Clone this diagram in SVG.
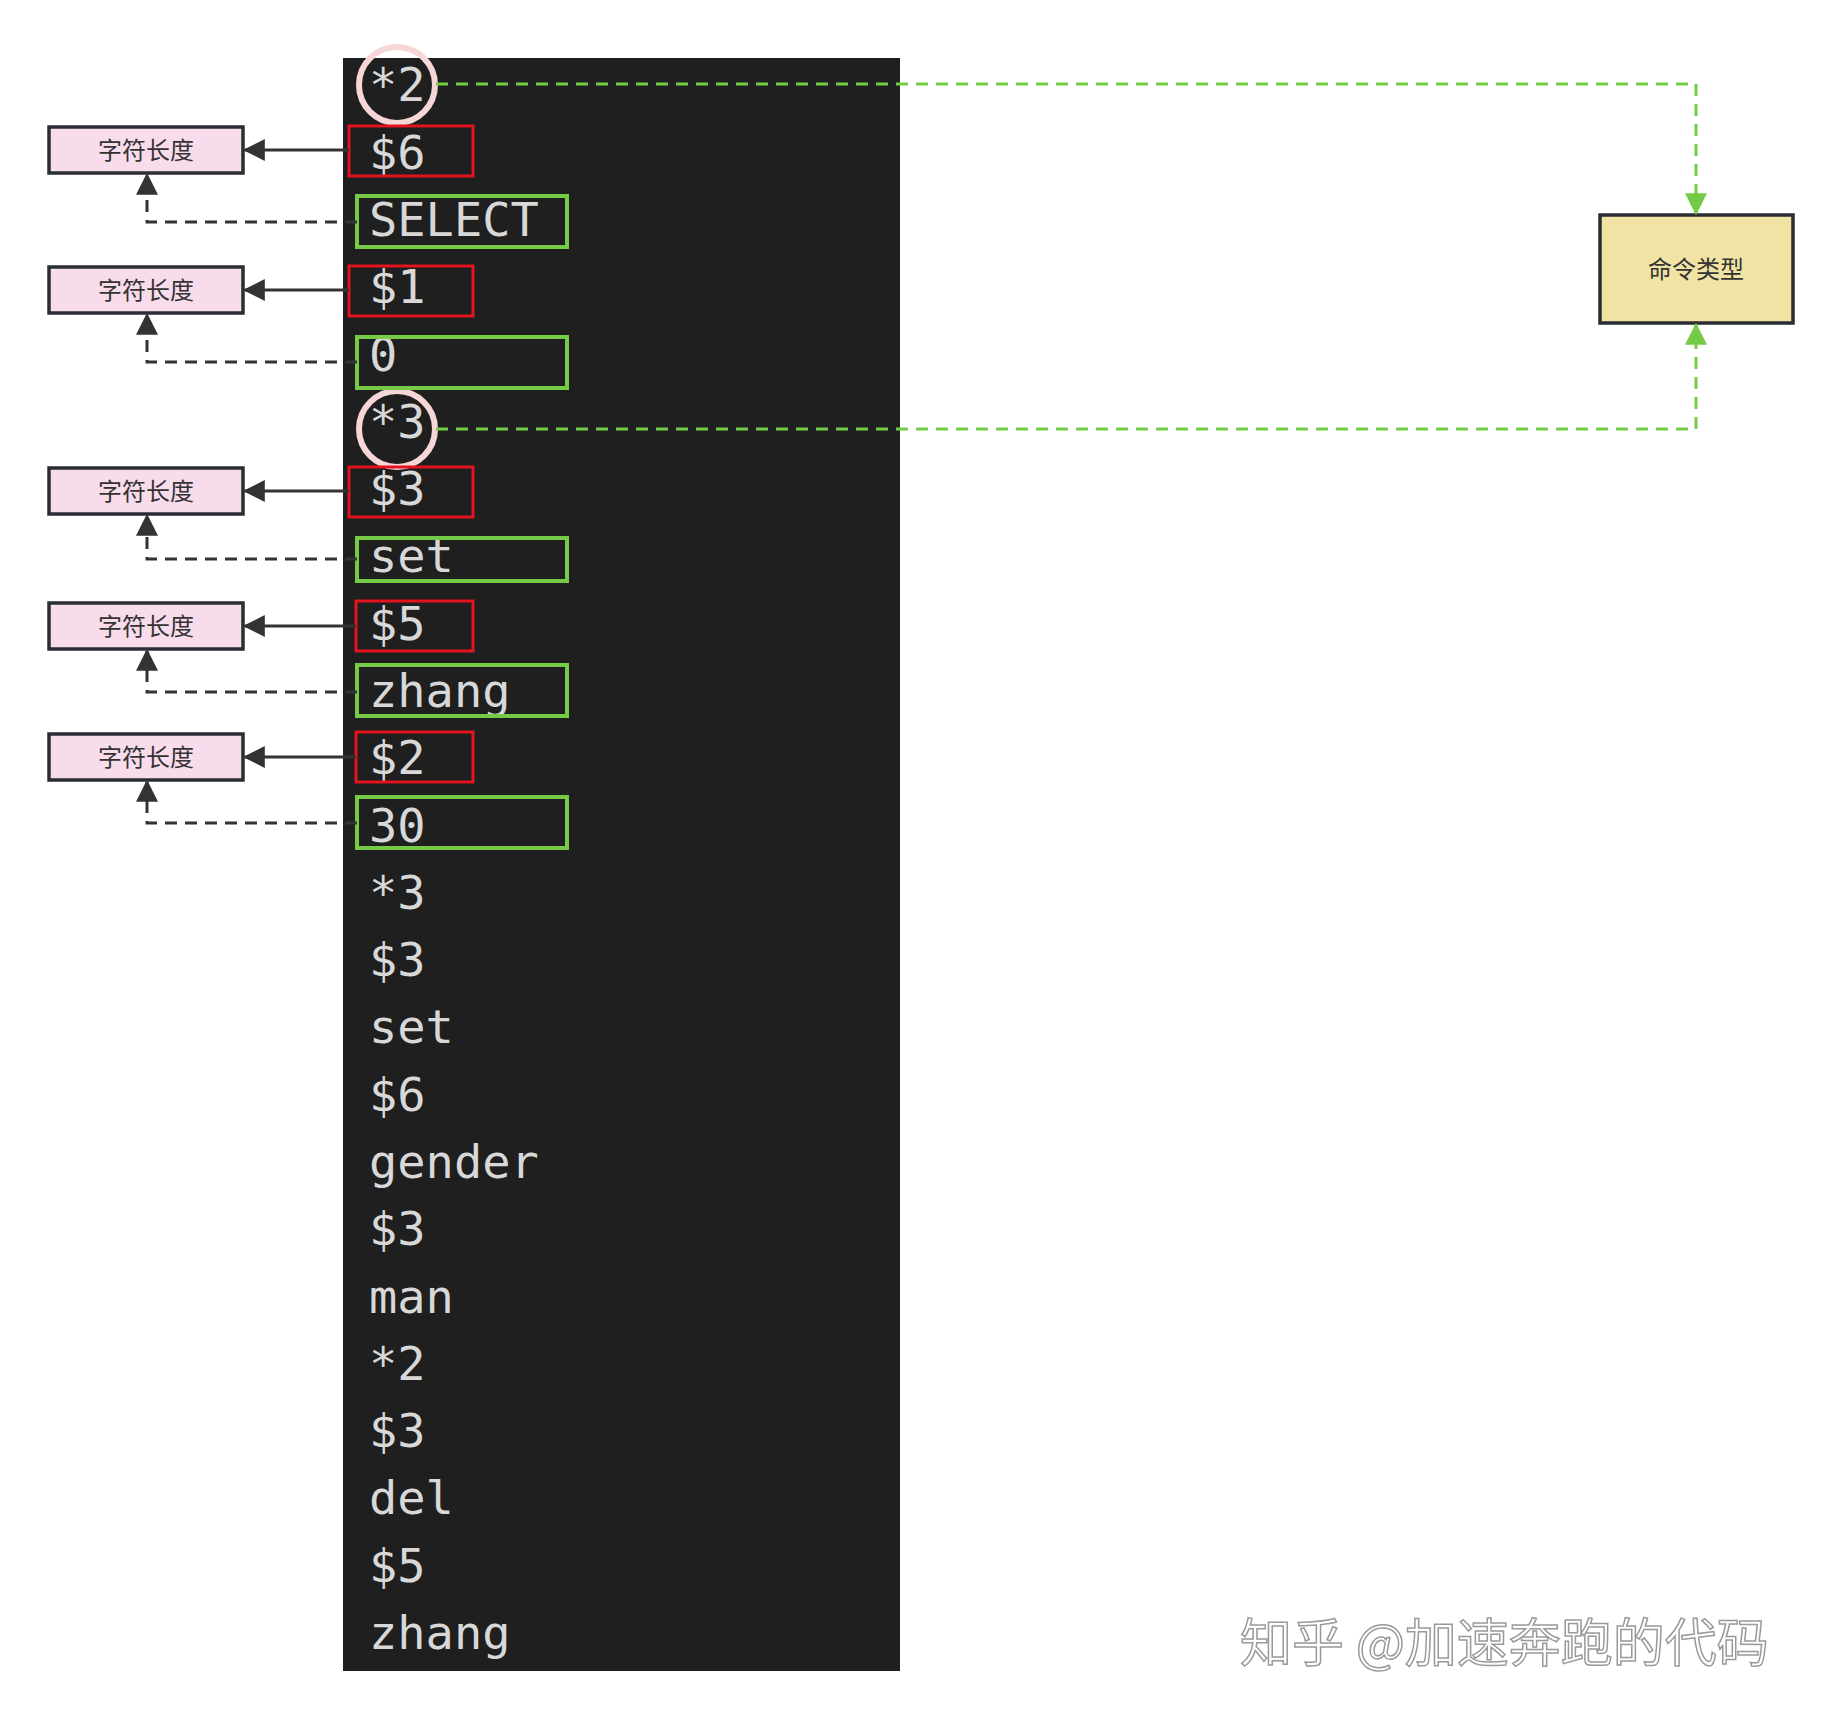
<svg xmlns="http://www.w3.org/2000/svg" width="1834" height="1714" viewBox="0 0 1834 1714">
<style>
.t{font-family:"DejaVu Sans Mono","Liberation Mono",monospace;font-size:47px;fill:#d8d8d8}
.len rect{fill:#f9dcec;stroke:#2a2d33;stroke-width:3.5}
.len text,.cmd text{font-family:"Noto Sans CJK SC",sans-serif;font-size:24px;fill:#333;text-anchor:middle}
.rb{fill:none;stroke:#e3131f;stroke-width:3}
.gb{fill:none;stroke:#75cb45;stroke-width:4}
.sol{stroke:#333;stroke-width:3;fill:none}
.dsh{stroke:#333;stroke-width:3;fill:none;stroke-dasharray:12 8}
.gd{stroke:#75cb45;stroke-width:3;fill:none;stroke-dasharray:12 8}
</style>
<defs>
<marker id="ahd" viewBox="0 0 10 10" refX="9" refY="5" markerWidth="22" markerHeight="22" markerUnits="userSpaceOnUse" orient="auto"><path d="M0,0L10,5L0,10z" fill="#333"/></marker>
<marker id="ag" viewBox="0 0 10 10" refX="9" refY="5" markerWidth="22" markerHeight="22" markerUnits="userSpaceOnUse" orient="auto"><path d="M0,0L10,5L0,10z" fill="#75cb45"/></marker>
</defs>
<rect width="1834" height="1714" fill="#fff"/>
<g id="terminal">
<rect x="343" y="58" width="557" height="1613" fill="#1f1f1f"/>
<text class="t" x="369" y="101">*2</text>
<text class="t" x="369" y="169">$6</text>
<text class="t" x="369" y="236">SELECT</text>
<text class="t" x="369" y="303">$1</text>
<text class="t" x="369" y="371">0</text>
<text class="t" x="369" y="438">*3</text>
<text class="t" x="369" y="505">$3</text>
<text class="t" x="369" y="572">set</text>
<text class="t" x="369" y="640">$5</text>
<text class="t" x="369" y="707">zhang</text>
<text class="t" x="369" y="774">$2</text>
<text class="t" x="369" y="842">30</text>
<text class="t" x="369" y="909">*3</text>
<text class="t" x="369" y="976">$3</text>
<text class="t" x="369" y="1043">set</text>
<text class="t" x="369" y="1111">$6</text>
<text class="t" x="369" y="1178">gender</text>
<text class="t" x="369" y="1245">$3</text>
<text class="t" x="369" y="1313">man</text>
<text class="t" x="369" y="1380">*2</text>
<text class="t" x="369" y="1447">$3</text>
<text class="t" x="369" y="1514">del</text>
<text class="t" x="369" y="1582">$5</text>
<text class="t" x="369" y="1649">zhang</text>
</g>
<g id="highlights">
<circle cx="397" cy="85" r="38" fill="none" stroke="#f6d6d6" stroke-width="6"/>
<circle cx="397" cy="429" r="38" fill="none" stroke="#f6d6d6" stroke-width="6"/>
<rect class="rb" x="349" y="126" width="124" height="50"/>
<rect class="rb" x="349" y="266" width="124" height="50"/>
<rect class="rb" x="349" y="467" width="124" height="50"/>
<rect class="rb" x="356" y="601" width="117" height="50"/>
<rect class="rb" x="356" y="732" width="117" height="50"/>
<rect class="gb" x="357" y="196" width="210" height="51"/>
<rect class="gb" x="357" y="337" width="210" height="51"/>
<rect class="gb" x="357" y="538" width="210" height="43"/>
<rect class="gb" x="357" y="665" width="210" height="51"/>
<rect class="gb" x="357" y="797" width="210" height="51"/>
</g>
<g id="len1" class="len"><rect x="49" y="127" width="194" height="46"/><text x="146" y="159">字符长度</text></g>
<g id="len2" class="len"><rect x="49" y="267" width="194" height="46"/><text x="146" y="299">字符长度</text></g>
<g id="len3" class="len"><rect x="49" y="468" width="194" height="46"/><text x="146" y="500">字符长度</text></g>
<g id="len4" class="len"><rect x="49" y="603" width="194" height="46"/><text x="146" y="635">字符长度</text></g>
<g id="len5" class="len"><rect x="49" y="734" width="194" height="46"/><text x="146" y="766">字符长度</text></g>
<g id="cmd" class="cmd"><rect x="1600" y="215" width="193" height="108" fill="#f0e3a3" stroke="#2a2d33" stroke-width="3.5"/><text x="1696" y="278">命令类型</text></g>
<g id="connectors">
<path class="sol" d="M349,150H245" marker-end="url(#ahd)"/>
<path class="sol" d="M349,290H245" marker-end="url(#ahd)"/>
<path class="sol" d="M349,491H245" marker-end="url(#ahd)"/>
<path class="sol" d="M356,626H245" marker-end="url(#ahd)"/>
<path class="sol" d="M356,757H245" marker-end="url(#ahd)"/>
<path class="dsh" d="M357,222H147V175" marker-end="url(#ahd)"/>
<path class="dsh" d="M357,362H147V315" marker-end="url(#ahd)"/>
<path class="dsh" d="M357,559H147V516" marker-end="url(#ahd)"/>
<path class="dsh" d="M357,692H147V651" marker-end="url(#ahd)"/>
<path class="dsh" d="M357,823H147V782" marker-end="url(#ahd)"/>
<path class="gd" d="M436,84H1696V213" marker-end="url(#ag)"/>
<path class="gd" d="M436,429H1696V325" marker-end="url(#ag)"/>
</g>
<text x="1240" y="1662" font-family="Noto Sans CJK SC,sans-serif" font-size="52" fill="#fff" stroke="#9a9a9a" stroke-width="1.5">知乎 @加速奔跑的代码</text>
</svg>
